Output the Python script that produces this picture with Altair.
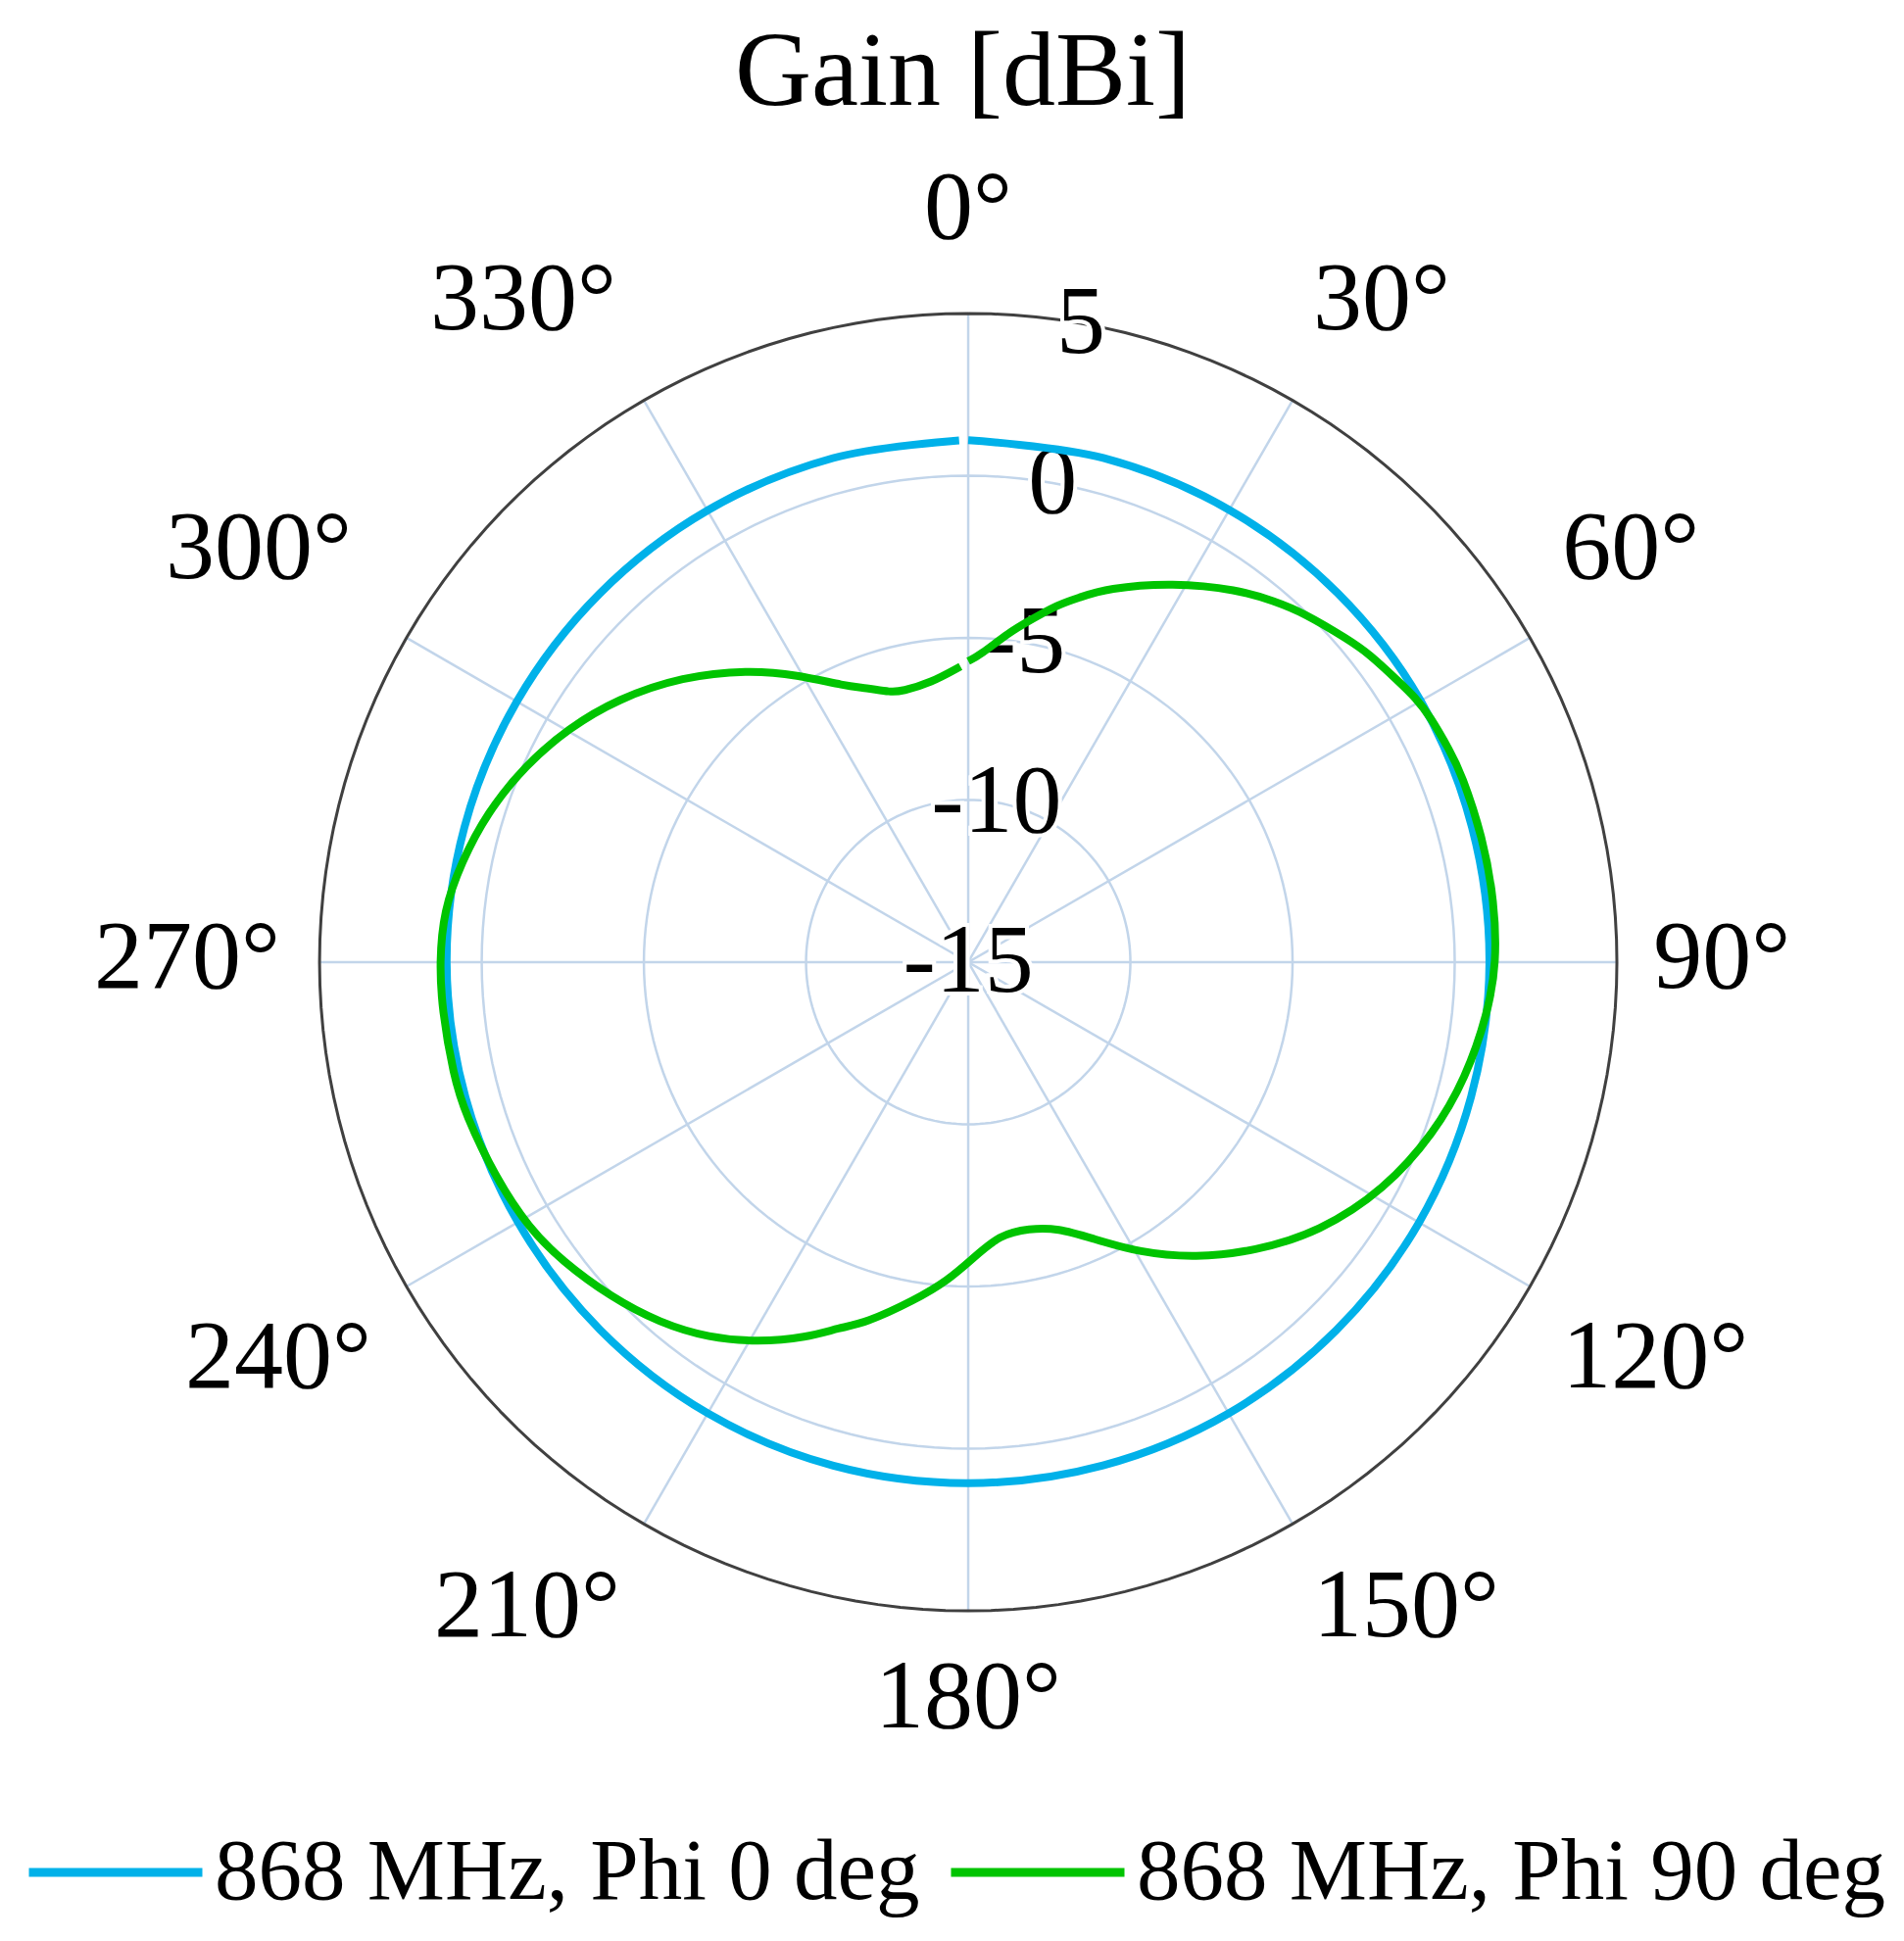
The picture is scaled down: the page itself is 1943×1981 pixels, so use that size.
import altair as alt
import pandas as pd
import numpy as np

TITLE = "Gain [dBi]"
SERIES = ["868 MHz, Phi 0 deg", "868 MHz, Phi 90 deg"]
COLORS = ["#00b1e9", "#00c400"]

# Phi 0 deg cut (degrees, dBi)
phi0_theta = [0, 15, 30, 45, 60, 75, 90, 105, 120, 135, 150, 165, 180,
              195, 210, 225, 240, 255, 270, 285, 300, 315, 330, 345, 359]
phi0_gain = [1.09, 1.09, 1.10, 1.10, 1.11, 1.08, 1.07, 1.05, 1.05, 1.05, 1.06, 1.06, 1.06,
             1.07, 1.06, 1.04, 1.03, 1.05, 1.08, 1.08, 1.07, 1.07, 1.08, 1.09, 1.09]

# Phi 90 deg cut (degrees, dBi)
phi90_theta = [0, 2.2, 7.1, 10.1, 14.1, 16.8, 20.4, 28.3, 35.9, 40.3, 43.8, 49.8, 52.4,
               57.0, 59.4, 61.9, 66.4, 69.0, 76.3, 83.5, 90.0, 95.6, 103.1, 110.2, 118.6,
               127.5, 135.3, 142.4, 149.4, 156.0, 161.3, 167.1, 173.4, 179.0, 183.7, 189.0,
               195.9, 199.4, 203.3, 209.0, 214.6, 220.5, 226.9, 233.7, 238.8, 245.3, 253.2,
               257.6, 264.9, 270.0, 275.6, 281.1, 287.2, 294.1, 300.3, 306.9, 315.0, 323.0,
               329.2, 336.1, 339.5, 344.1, 346.2, 352.4, 358.5]
phi90_gain = [-5.72, -5.53, -4.75, -4.31, -3.63, -3.27, -2.70, -1.71, -0.82, -0.41, -0.07, 0.38, 0.59,
              0.85, 1.02, 1.13, 1.22, 1.28, 1.33, 1.33, 1.29, 1.10, 0.75, 0.30, -0.37,
              -1.34, -2.46, -3.50, -4.59, -5.69, -6.34, -6.58, -6.54, -5.88, -5.16, -4.45,
              -3.43, -3.05, -2.40, -1.61, -0.93, -0.37, 0.10, 0.55, 0.83, 1.01, 1.20,
              1.25, 1.29, 1.30, 1.25, 0.93, 0.54, -0.07, -0.72, -1.48, -2.55, -3.72,
              -4.68, -5.69, -5.97, -6.35, -6.40, -6.31, -5.88]

r_ticks = [-15, -10, -5, 0, 5]
theta_ticks = list(range(0, 360, 30))

R_MIN, R_MAX = -15, 5
R_SPAN = R_MAX - R_MIN
LABEL_ANGLE = 10
LABEL_R = 20.97
FONT = "Liberation Serif"
GRID = "#c2d5ea"

# ---- data tables ----
def series_df(name, th, g):
    return pd.DataFrame({"series": name, "theta": th, "gain": g})

c0 = series_df(SERIES[0], phi0_theta, phi0_gain)
c1 = series_df(SERIES[1], phi90_theta, phi90_gain)

ring_rows = []
for tk in r_ticks[1:]:
    for t in np.arange(0, 361, 2):
        ring_rows.append({"ring": tk, "theta": float(t)})
rings = pd.DataFrame(ring_rows)

spokes = pd.DataFrame({"theta": theta_ticks})
rlabels = pd.DataFrame({"tick": r_ticks})
alabels = pd.DataFrame({"theta": theta_ticks})

xs = alt.Scale(domain=[-29.61, 28.61], nice=False, zero=False)
ys = alt.Scale(domain=[-24.71, 24.83], nice=False, zero=False)

def XY(xf="x", yf="y"):
    return dict(x=alt.X(f"{xf}:Q", scale=xs, axis=None),
                y=alt.Y(f"{yf}:Q", scale=ys, axis=None))

def polar(rexpr):
    return {"x": f"({rexpr}) * sin(datum.theta * PI / 180)",
            "y": f"({rexpr}) * cos(datum.theta * PI / 180)"}

inner = alt.Chart(rings).transform_filter(f"datum.ring < {R_MAX}").transform_calculate(
    **polar(f"datum.ring - ({R_MIN})")
).mark_line(color=GRID, strokeWidth=2.5).encode(
    detail="ring:N", order="theta:Q", **XY())

outer = alt.Chart(rings).transform_filter(f"datum.ring == {R_MAX}").transform_calculate(
    **polar(f"datum.ring - ({R_MIN})")
).mark_line(color="#404040", strokeWidth=3).encode(
    detail="ring:N", order="theta:Q", **XY())

spk = alt.Chart(spokes).transform_calculate(
    x0="0", y0="0",
    x1=f"{R_SPAN} * sin(datum.theta * PI / 180)",
    y1=f"{R_SPAN} * cos(datum.theta * PI / 180)",
).mark_rule(color=GRID, strokeWidth=2.5).encode(
    x=alt.X("x0:Q", scale=xs, axis=None), y=alt.Y("y0:Q", scale=ys, axis=None),
    x2="x1:Q", y2="y1:Q")

rl_base = alt.Chart(rlabels).transform_calculate(
    theta=str(LABEL_ANGLE), label="'' + datum.tick"
).transform_calculate(**polar(f"datum.tick - ({R_MIN})"))
rl_halo = rl_base.mark_text(font=FONT, fontSize=100, align="center", baseline="middle",
                            stroke="white", strokeWidth=8, color="white").encode(
    text="label:N", **XY())
rl_text = rl_base.mark_text(font=FONT, fontSize=100, align="center", baseline="middle",
                            color="black").encode(text="label:N", **XY())

# angle labels: box corner anchored on a circle just outside the outer ring
groups = [
    ("datum.theta == 0", "center", "bottom", 0, -24),
    ("datum.theta > 0 && datum.theta < 90", "left", "bottom", 5, -24),
    ("datum.theta == 90", "left", "middle", 5, -4),
    ("datum.theta > 90 && datum.theta < 180", "left", "top", 5, 8),
    ("datum.theta == 180", "center", "top", 0, 8),
    ("datum.theta > 180 && datum.theta < 270", "right", "top", -8, 8),
    ("datum.theta == 270", "right", "middle", -8, -4),
    ("datum.theta == 300", "right", "bottom", -28, -24),
    ("datum.theta == 330", "right", "bottom", -12, -24),
]
al_layers = []
for cond, al_, bl, dx, dy in groups:
    al_layers.append(
        alt.Chart(alabels).transform_filter(cond).transform_calculate(
            label="datum.theta + '\u00b0'"
        ).transform_calculate(**polar(str(LABEL_R))).mark_text(
            font=FONT, fontSize=100, align=al_, baseline=bl, dx=dx, dy=dy, color="black"
        ).encode(text="label:N", **XY())
    )

legend = alt.Legend(title=None, orient="none", legendX=17, legendY=1658,
                    direction="horizontal", symbolType="stroke",
                    symbolSize=31329, symbolStrokeWidth=9,
                    labelFontSize=89, labelFont=FONT, labelColor="black",
                    labelLimit=3000, columnPadding=13, labelOffset=8)
color = alt.Color("series:N", scale=alt.Scale(domain=SERIES, range=COLORS), legend=legend)

line0 = alt.Chart(c0).transform_calculate(
    **polar(f"datum.gain - ({R_MIN})")
).mark_line(strokeWidth=8, interpolate="catmull-rom").encode(
    color=color, order="theta:Q", **XY())

line1 = alt.Chart(c1).transform_calculate(
    **polar(f"datum.gain - ({R_MIN})")
).mark_line(strokeWidth=8, interpolate="basis").encode(
    color=color, order="theta:Q", **XY())

chart = alt.layer(inner, spk, outer, rl_halo, rl_text, *al_layers, line0, line1).properties(
    width=1927, height=1640,
    title=alt.Title(TITLE, fontSize=108, font=FONT, fontWeight="normal", color="black",
                    anchor="middle", offset=30, dx=11),
    autosize=alt.AutoSizeParams(type="none"),
    padding={"left": 0, "top": 152, "right": 0, "bottom": 173},
).configure(background="white", view=alt.ViewConfig(stroke="transparent"))

chart.save("out.html", embed_options={"renderer": "svg", "actions": False})
